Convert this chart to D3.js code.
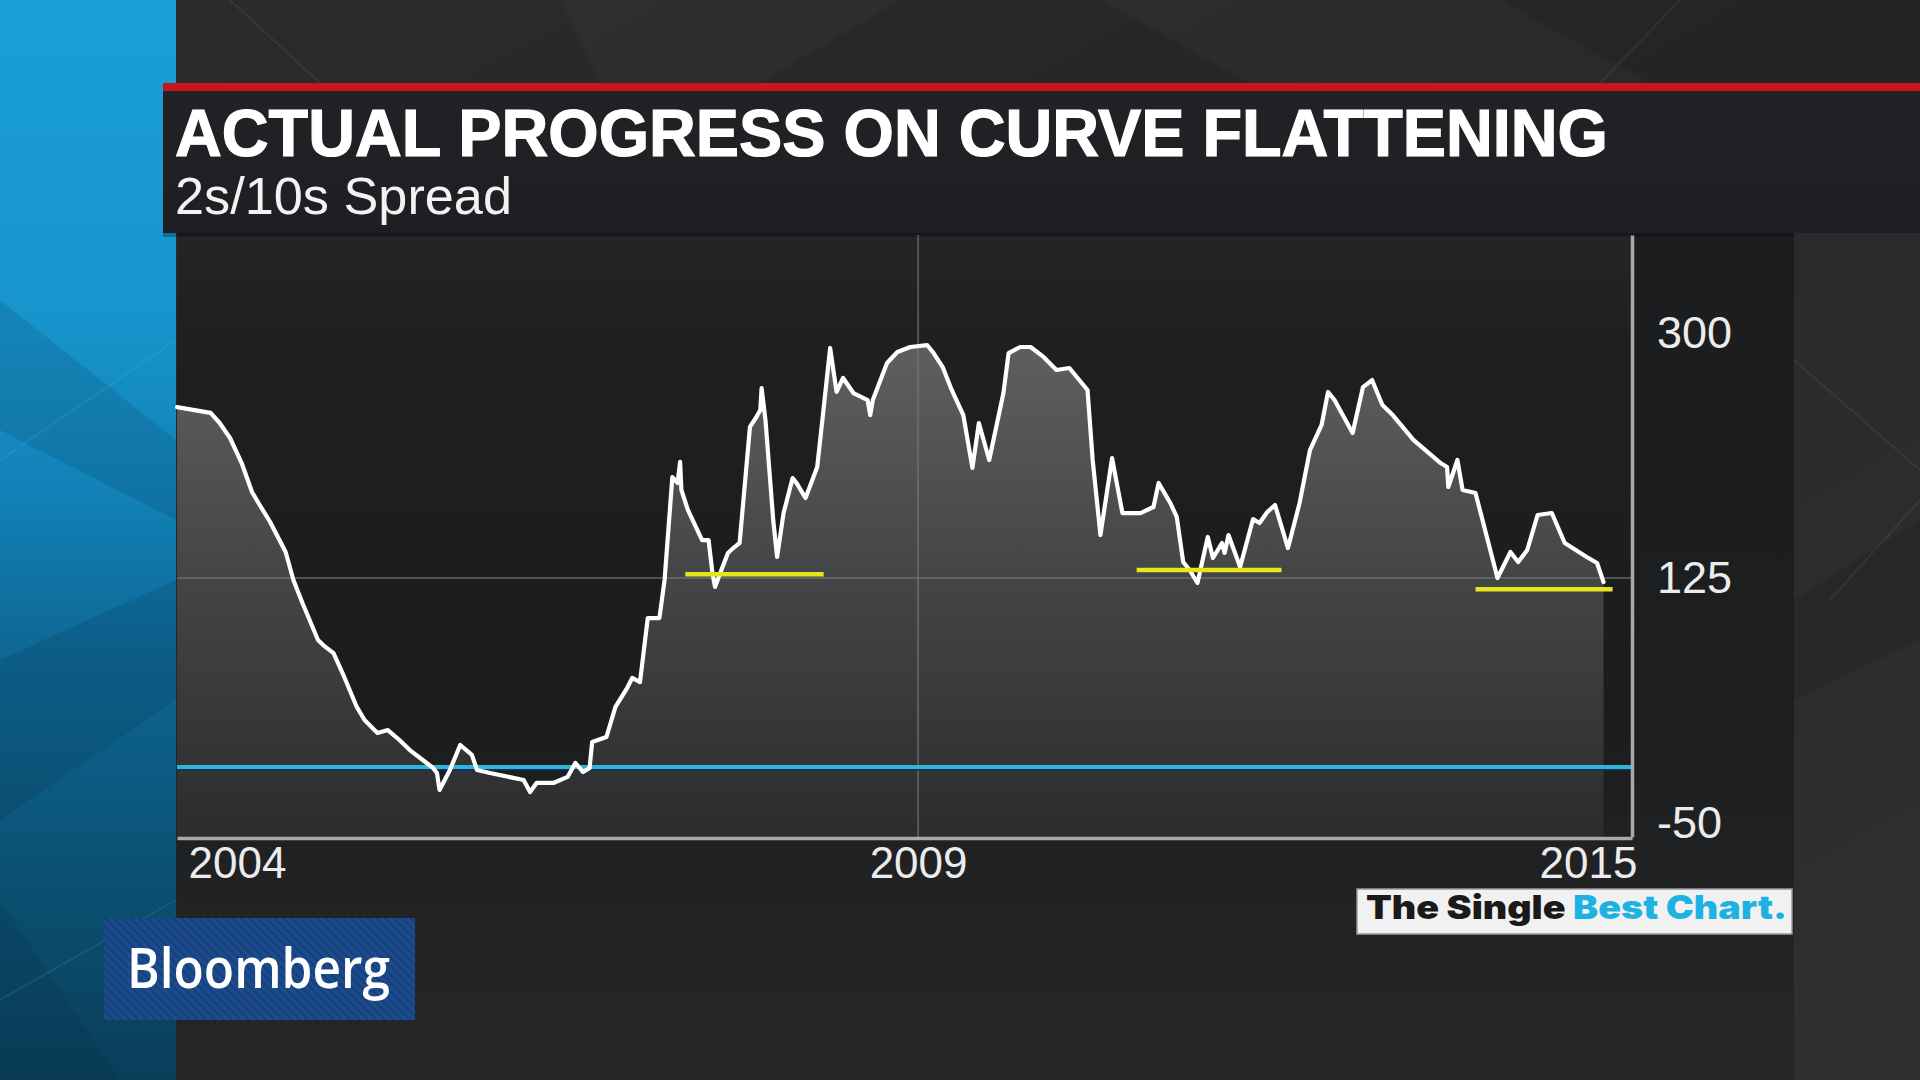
<!DOCTYPE html>
<html><head><meta charset="utf-8">
<script src="https://cdn.jsdelivr.net/npm/d3@7"></script>
<style>
html,body{margin:0;padding:0;background:#1f2022;overflow:hidden;}
svg{display:block;}
</style></head><body>
<svg id="chart" width="1920" height="1080"></svg>
<script>
// ---------------- data ----------------
const titleText = "ACTUAL PROGRESS ON CURVE FLATTENING";
const subtitleText = "2s/10s Spread";

// time position of each sample, in fractional years
const years = [2004.00,2004.26,2004.33,2004.41,2004.50,2004.58,2004.63,2004.72,2004.84,2004.90,
2004.97,2005.09,2005.13,2005.21,2005.28,2005.39,2005.45,2005.55,2005.63,2005.72,
2005.80,2005.90,2005.98,2006.01,2006.03,2006.11,2006.19,2006.28,2006.32,2006.42,
2006.68,2006.73,2006.78,2006.91,2007.02,2007.08,2007.14,2007.19,2007.21,2007.32,
2007.39,2007.48,2007.52,2007.58,2007.64,2007.73,2007.77,2007.83,2007.87,2007.89,
2007.90,2007.95,2008.06,2008.11,2008.14,2008.16,2008.20,2008.26,2008.31,2008.35,
2008.43,2008.48,2008.51,2008.52,2008.55,2008.61,2008.64,2008.69,2008.76,2008.79,
2008.86,2008.95,2008.99,2009.05,2009.10,2009.15,2009.23,2009.34,2009.36,2009.38,
2009.49,2009.57,2009.67,2009.80,2009.85,2009.92,2009.99,2010.08,2010.15,2010.20,
2010.28,2010.39,2010.43,2010.52,2010.60,2010.70,2010.80,2010.90,2011.04,2011.08,
2011.14,2011.23,2011.31,2011.45,2011.55,2011.59,2011.68,2011.73,2011.78,2011.83,
2011.89,2011.97,2012.01,2012.08,2012.10,2012.13,2012.22,2012.32,2012.37,2012.43,
2012.49,2012.59,2012.68,2012.76,2012.85,2012.90,2012.95,2013.09,2013.17,2013.24,
2013.32,2013.40,2013.56,2013.77,2013.82,2013.83,2013.90,2013.94,2014.04,2014.21,
2014.31,2014.37,2014.44,2014.52,2014.63,2014.73,2014.90,2014.98,2015.03];

// 2s/10s spread, basis points
const spread = [247.1,242.9,235.7,225,207.1,186.4,178.6,165,143.6,123.6,
107.1,80.7,77.1,71.4,57.1,32.9,23.6,14.3,16.4,9.3,
2.1,-5,-10.7,-14.3,-26.4,-12.1,5.7,-1.4,-12.1,-14.3,
-19.3,-27.9,-21.4,-21.4,-17.1,-7.1,-13.6,-10.7,7.9,11.4,
32.9,46.4,53.6,50.7,96.4,96.4,123.6,197.1,192.9,207.9,
187.9,173.6,152.1,152.1,128.6,118.6,128.6,142.9,147.1,150,
232.9,240,245,260.7,237.9,166.4,140,171.4,196.4,192.9,
182.1,204.3,237.9,289.3,257.9,267.9,257.1,252.1,241.4,252.1,
278.6,286.4,290,291.4,285.7,275.7,259.3,241.4,203.6,235.7,
209.3,257.1,285.7,290,290,282.9,273.6,275,259.3,209.3,
155.7,210.7,171.4,171.4,175.7,192.9,178.6,168.6,136.4,130.7,
121.4,154.3,139.3,150,142.9,155.7,132.9,167.1,164.3,172.1,
177.1,146.4,178.6,216.4,234.3,257.9,252.1,228.6,261.4,266.4,
248.6,241.4,223.6,207.1,204.3,190,209.3,187.9,185.7,125,
143.6,136.4,145,170,171.4,150,140,135.7,122.1];

// yellow "floor" annotations
const floorStart = [2007.93, 2011.42, 2014.04];
const floorEnd   = [2009.00, 2012.54, 2015.10];
const floorValue = [127.7, 130.7, 116.9];

// cyan reference line level
const referenceLevel = -10;

// axes
const xDomain = [2004, 2015.25];
const yDomain = [-60, 370];
const xTickValues = [2004, 2009.73, 2015.25];
const xTickLabels = ["2004", "2009", "2015"];
const yTickValues = [-50, 125, 300];
const yTickLabels = ["-50", "125", "300"];
const gridX = [2009.73];
const gridY = [125];

// ---------------- drawing ----------------
const svg = d3.select("#chart");
const defs = svg.append("defs");
const M = {left: 177, right: 1632, top: 235, bottom: 837};

const x = d3.scaleLinear().domain(xDomain).range([M.left, M.right]);
const y = d3.scaleLinear().domain(yDomain).range([M.bottom, M.top]);

function lin(id, stops, x1, y1, x2, y2, user) {
  const g = defs.append("linearGradient").attr("id", id)
    .attr("x1", x1).attr("y1", y1).attr("x2", x2).attr("y2", y2);
  if (user) g.attr("gradientUnits", "userSpaceOnUse");
  stops.forEach(s => g.append("stop").attr("offset", s[0]).attr("stop-color", s[1]));
}
lin("bgGrad", [[0, "#2b2c2e"], [0.5, "#232426"], [1, "#2a2b2d"]], 0, 0, 1, 1);
lin("blueGrad", [[0, "#1aa0d6"], [0.3, "#1794cb"], [0.45, "#1282b8"], [0.6, "#0e6896"], [0.8, "#0b5274"], [1, "#0a3f5a"]], 0, 0, 0, 1);
lin("panelGrad", [[0, "#1c1d1f"], [0.6, "#1d1e20"], [1, "#262729"]], 0, 0, 0, 1);
lin("plotGrad", [[0, "#242527"], [0.18, "#1e1f21"], [0.8, "#1b1c1e"], [1, "#202123"]], 0, 0, 0, 1);
lin("areaGrad", [[0, "#5f6060"], [0.45, "#464748"], [1, "#2b2c2e"]], 0, y(300), 0, M.bottom, true);
lin("headerGrad", [[0, "#212225"], [1, "#1e1f22"]], 0, 0, 0, 1);

const hatch = defs.append("pattern").attr("id", "hatch").attr("patternUnits", "userSpaceOnUse")
  .attr("width", 6).attr("height", 6).attr("patternTransform", "rotate(-45)");
hatch.append("rect").attr("width", 6).attr("height", 6).attr("fill", "#1b4b8d");
hatch.append("rect").attr("width", 2).attr("height", 6).attr("fill", "#173f78");

// background
svg.append("rect").attr("width", 1920).attr("height", 1080).attr("fill", "url(#bgGrad)");
const facets = [
  [[560,0],[900,0],[760,83],[600,83]],
  [[1100,0],[1500,0],[1650,83],[1250,83]],
  [[1794,233],[1920,120],[1920,520],[1794,600]],
  [[1794,700],[1920,640],[1920,1080],[1794,1080]]
];
svg.append("g").selectAll("path").data(facets).join("path")
  .attr("d", d => "M" + d.join("L") + "Z").attr("fill", "#ffffff").attr("opacity", 0.025);
const facetLines = [[[1600,83],[1680,0]], [[1830,600],[1920,500]], [[1794,360],[1920,470]], [[230,0],[320,83]]];
svg.append("g").selectAll("path").data(facetLines).join("path")
  .attr("d", d => "M" + d.join("L")).attr("stroke", "#ffffff").attr("stroke-opacity", 0.06).attr("stroke-width", 2).attr("fill", "none");

// left blue strip
svg.append("rect").attr("x", 0).attr("y", 0).attr("width", 176).attr("height", 1080).attr("fill", "url(#blueGrad)");
const blueFacets = [
  [[0,300],[176,440],[176,520],[0,430]],
  [[0,660],[176,580],[176,700],[0,820]],
  [[0,900],[120,1080],[0,1080]]
];
svg.append("g").selectAll("path").data(blueFacets).join("path")
  .attr("d", d => "M" + d.join("L") + "Z").attr("fill", "#04233a").attr("opacity", 0.14);
svg.append("g").selectAll("path").data([[[0,460],[176,340]], [[0,1000],[176,900]]]).join("path")
  .attr("d", d => "M" + d.join("L")).attr("stroke", "#6fd0f0").attr("stroke-opacity", 0.12).attr("stroke-width", 2).attr("fill", "none");

// chart panel
svg.append("rect").attr("x", M.left).attr("y", 233).attr("width", 1794 - M.left).attr("height", 1080 - 233).attr("fill", "url(#panelGrad)");
svg.append("rect").attr("x", M.left).attr("y", M.top).attr("width", M.right - M.left).attr("height", M.bottom - M.top).attr("fill", "url(#plotGrad)");

// header
svg.append("rect").attr("x", 163).attr("y", 91).attr("width", 1920 - 163).attr("height", 142).attr("fill", "url(#headerGrad)");
svg.append("rect").attr("x", 163).attr("y", 83).attr("width", 1920 - 163).attr("height", 8).attr("fill", "#c8161e");
svg.append("rect").attr("x", 163).attr("y", 233).attr("width", 1794 - 163).attr("height", 4).attr("fill", "#000").attr("opacity", 0.25);

svg.append("text").attr("x", 175).attr("y", 156)
  .attr("font-family", "'Liberation Sans', Arial, sans-serif").attr("font-weight", 700)
  .attr("font-size", 67).attr("fill", "#ffffff").attr("stroke", "#ffffff").attr("stroke-width", 1.2)
  .attr("textLength", 1433).attr("lengthAdjust", "spacingAndGlyphs").text(titleText);
svg.append("text").attr("x", 175).attr("y", 214)
  .attr("font-family", "'Liberation Sans', Arial, sans-serif").attr("font-weight", 400)
  .attr("font-size", 52).attr("fill", "#f2f2f2")
  .attr("textLength", 337).attr("lengthAdjust", "spacingAndGlyphs").text(subtitleText);

// series
const data = years.map((yr, i) => ({yr, v: spread[i]}));
const area = d3.area().x(d => x(d.yr)).y0(y(yDomain[0])).y1(d => y(d.v));
const line = d3.line().x(d => x(d.yr)).y(d => y(d.v));

svg.append("path").datum(data).attr("d", area).attr("fill", "url(#areaGrad)");

// gridlines
svg.append("g").selectAll("line").data(gridY).join("line")
  .attr("x1", M.left).attr("x2", M.right).attr("y1", d => y(d)).attr("y2", d => y(d))
  .attr("stroke", "#7a7b7c").attr("stroke-opacity", 0.55).attr("stroke-width", 2);
svg.append("g").selectAll("line").data(gridX).join("line")
  .attr("x1", d => x(d)).attr("x2", d => x(d)).attr("y1", M.top).attr("y2", M.bottom)
  .attr("stroke", "#7a7b7c").attr("stroke-opacity", 0.55).attr("stroke-width", 2);

// cyan reference line
svg.append("line").attr("x1", M.left).attr("x2", M.right)
  .attr("y1", y(referenceLevel) + 2.5).attr("y2", y(referenceLevel) + 2.5)
  .attr("stroke", "#13305e").attr("stroke-width", 2);
svg.append("line").attr("x1", M.left).attr("x2", M.right)
  .attr("y1", y(referenceLevel)).attr("y2", y(referenceLevel))
  .attr("stroke", "#2fb7d9").attr("stroke-width", 4);

// white spread line
svg.append("path").datum(data).attr("d", line).attr("fill", "none")
  .attr("stroke", "#ffffff").attr("stroke-width", 4.2)
  .attr("stroke-linejoin", "round").attr("stroke-linecap", "round");

// yellow floors
svg.append("g").selectAll("line").data(floorValue).join("line")
  .attr("x1", (d, i) => x(floorStart[i])).attr("x2", (d, i) => x(floorEnd[i]))
  .attr("y1", d => y(d)).attr("y2", d => y(d))
  .attr("stroke", "#e6e61c").attr("stroke-width", 4.5);

// axes
const axisFont = "'Liberation Sans', Arial, sans-serif";
const yAxis = d3.axisRight(y).tickValues(yTickValues).tickFormat((d, i) => yTickLabels[i])
  .tickSizeInner(0).tickSizeOuter(0).tickPadding(25);
const gy = svg.append("g").attr("transform", `translate(${M.right},0)`).call(yAxis);
gy.select(".domain").attr("stroke", "#a9a9a9").attr("stroke-width", 3.5);
gy.selectAll("text").attr("font-family", axisFont).attr("font-size", 45).attr("fill", "#ececec");

const xAxis = d3.axisBottom(x).tickValues(xTickValues).tickFormat((d, i) => xTickLabels[i])
  .tickSizeInner(0).tickSizeOuter(0).tickPadding(9);
const gx = svg.append("g").attr("transform", `translate(0,${M.bottom + 1})`).call(xAxis);
gx.select(".domain").attr("stroke", "#a9a9a9").attr("stroke-width", 3.5);
gx.selectAll("text").attr("font-family", axisFont).attr("font-size", 44).attr("fill", "#ececec")
  .attr("text-anchor", (d, i) => i === 0 ? "start" : (i === xTickValues.length - 1 ? "end" : "middle"))
  .attr("dx", (d, i) => i === 0 ? 11 : (i === xTickValues.length - 1 ? 5 : 0));

// "The Single Best Chart." badge
svg.append("rect").attr("x", 1357).attr("y", 889).attr("width", 435).attr("height", 45)
  .attr("fill", "#f1f1f1").attr("stroke", "#9a9a9a").attr("stroke-width", 1.5);
const badge = svg.append("text").attr("x", 1366).attr("y", 919)
  .attr("font-family", "Inter, 'Liberation Sans', Arial, sans-serif").attr("font-weight", 900)
  .attr("font-size", 33).attr("textLength", 421).attr("lengthAdjust", "spacingAndGlyphs");
badge.append("tspan").attr("fill", "#1a1a1a").text("The Single ");
badge.append("tspan").attr("fill", "#1cb2e2").text("Best Chart.");

// Bloomberg logo box
svg.append("rect").attr("x", 104).attr("y", 918).attr("width", 311).attr("height", 102).attr("fill", "url(#hatch)");
svg.append("text").attr("x", 127).attr("y", 988)
  .attr("font-family", "'Open Sans', 'Liberation Sans', sans-serif").attr("font-weight", 600)
  .attr("font-size", 56).attr("fill", "#ffffff")
  .attr("textLength", 263).attr("lengthAdjust", "spacingAndGlyphs").text("Bloomberg");
</script>
</body></html>
